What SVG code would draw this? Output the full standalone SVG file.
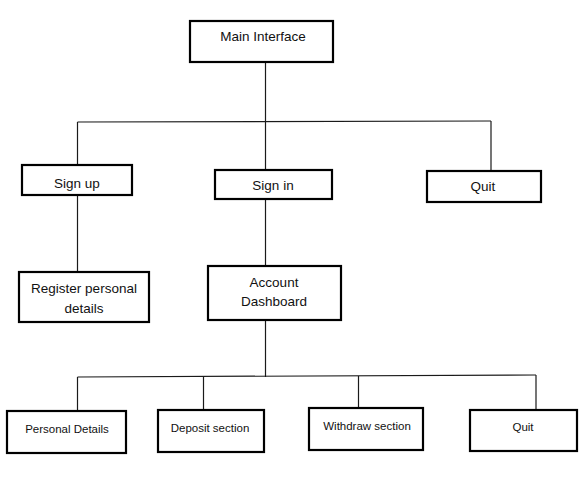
<svg xmlns="http://www.w3.org/2000/svg" width="584" height="495" viewBox="0 0 584 495">
<style>
.box{fill:#fff;stroke:#000;stroke-width:2.2}
.t{font-family:"Liberation Sans",Arial,sans-serif;font-size:13.5px;fill:#111;text-anchor:middle}
.s{font-family:"Liberation Sans",Arial,sans-serif;font-size:11.5px;fill:#111;text-anchor:middle}
.c{stroke:#1a1a1a;stroke-width:1.2;fill:none}
</style>
<rect width="584" height="495" fill="#fff"/>
<g id="connectors">
<line class="c" x1="265.5" y1="62" x2="265.5" y2="170"/>
<line class="c" x1="77.5" y1="122" x2="491" y2="121"/>
<line class="c" x1="77.5" y1="122" x2="77.5" y2="165"/>
<line class="c" x1="491" y1="121" x2="491" y2="171"/>
<line class="c" x1="77.5" y1="195" x2="77.5" y2="272"/>
<line class="c" x1="265.5" y1="199" x2="265.5" y2="266"/>
<line class="c" x1="265.5" y1="320" x2="265.5" y2="377"/>
<line class="c" x1="77.5" y1="377" x2="536" y2="375"/>
<line class="c" x1="77.5" y1="377" x2="77.5" y2="411"/>
<line class="c" x1="203.5" y1="376.5" x2="203.5" y2="410"/>
<line class="c" x1="358.5" y1="376" x2="358.5" y2="408"/>
<line class="c" x1="536" y1="375" x2="536" y2="410"/>
</g>
<g id="main-interface">
<rect class="box" x="190" y="21" width="143" height="41"/>
<text class="t" x="263" y="41">Main Interface</text>
</g>
<g id="sign-up">
<rect class="box" x="22" y="165" width="110" height="30"/>
<text class="t" x="77" y="188">Sign up</text>
</g>
<g id="sign-in">
<rect class="box" x="215" y="170" width="117" height="29"/>
<text class="t" x="273" y="190">Sign in</text>
</g>
<g id="quit-top">
<rect class="box" x="427" y="171" width="114" height="31"/>
<text class="t" x="483" y="191">Quit</text>
</g>
<g id="register">
<rect class="box" x="19" y="272" width="130" height="50"/>
<text class="t" x="84" y="293">Register personal</text>
<text class="t" x="84" y="313">details</text>
</g>
<g id="account-dashboard">
<rect class="box" x="208" y="266" width="133" height="54"/>
<text class="t" x="274" y="287">Account</text>
<text class="t" x="274" y="306">Dashboard</text>
</g>
<g id="personal-details">
<rect class="box" x="7" y="411" width="119" height="42"/>
<text class="s" x="67" y="433">Personal Details</text>
</g>
<g id="deposit">
<rect class="box" x="158" y="410" width="106" height="42"/>
<text class="s" x="210" y="432">Deposit section</text>
</g>
<g id="withdraw">
<rect class="box" x="309" y="408" width="114" height="42"/>
<text class="s" x="367" y="430">Withdraw section</text>
</g>
<g id="quit-bottom">
<rect class="box" x="470" y="410" width="107" height="41"/>
<text class="s" x="523" y="431">Quit</text>
</g>
</svg>
